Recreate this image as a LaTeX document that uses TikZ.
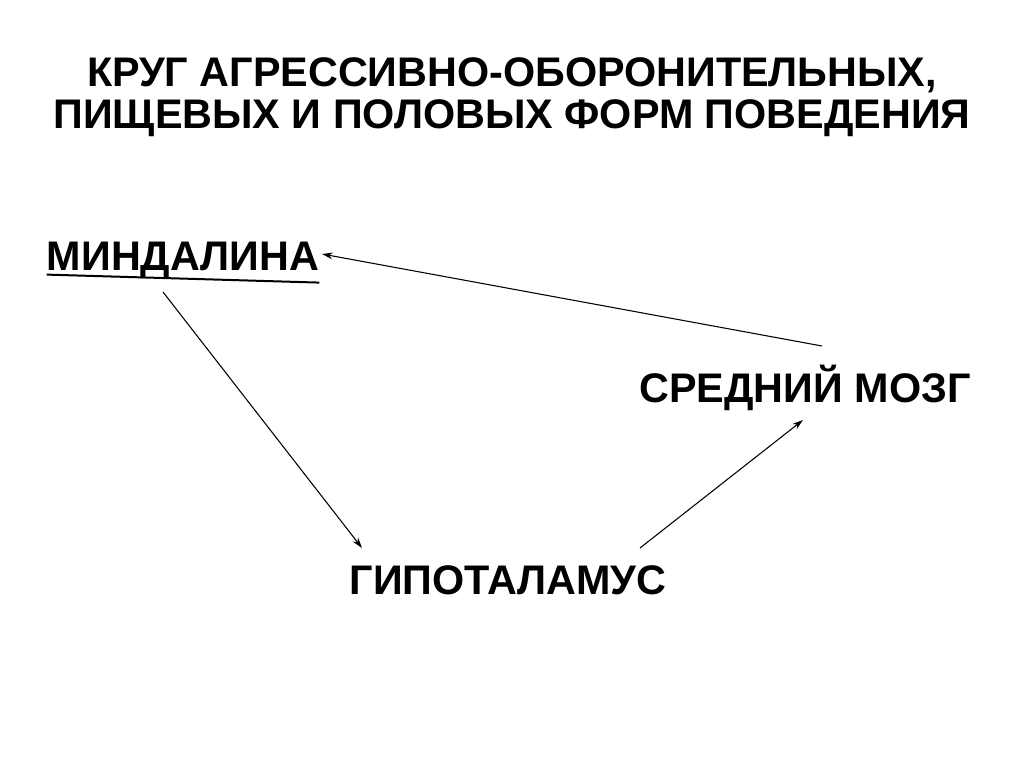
\documentclass[tikz,border=0pt]{standalone}
\usepackage{fontspec}
\setmainfont{Liberation Sans}
\usetikzlibrary{arrows.meta}
\begin{document}
\begin{tikzpicture}[x=0.75pt,y=-0.75pt,
  lbl/.style={font=\fontsize{31}{32}\selectfont\bfseries, inner sep=0pt},
  arr/.style={-{Stealth[length=8pt,width=5pt]}, line width=0.8pt}]
\useasboundingbox[fill=white] (0,0) rectangle (1024,767);
\node[lbl] (t1) at (512,75) {КРУГ АГРЕССИВНО-ОБОРОНИТЕЛЬНЫХ,};
\node[lbl] (t2) at (512,118) {ПИЩЕВЫХ И ПОЛОВЫХ ФОРМ ПОВЕДЕНИЯ};
\node[lbl] (amy) at (183,260) {МИНДАЛИНА};
\draw[line width=1.5pt] (amy.south west) ++(0,-4) -- ([yshift=-3pt]amy.south east);
\node[lbl] (mid) at (805,388) {СРЕДНИЙ МОЗГ};
\node[lbl] (hyp) at (508,580) {ГИПОТАЛАМУС};
\coordinate (a1) at (163,292); \coordinate (a2) at (362,548);
\coordinate (b1) at (640,548); \coordinate (b2) at (803,420);
\coordinate (c1) at (822,346); \coordinate (c2) at (322,254);
\draw[arr] (a1) -- (a2);
\draw[arr] (b1) -- (b2);
\draw[arr] (c1) -- (c2);
\end{tikzpicture}
\end{document}
